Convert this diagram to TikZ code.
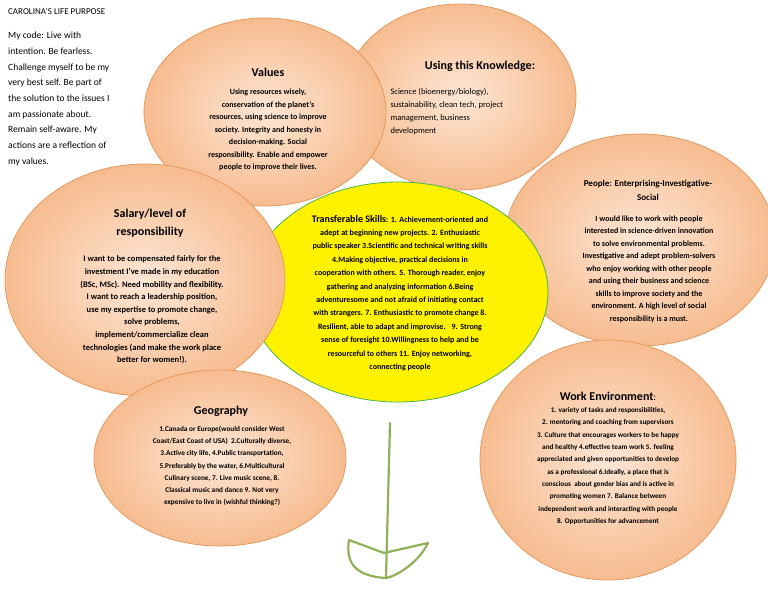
\documentclass[tikz,border=0pt]{standalone}
\usepackage{fontspec}
\setmainfont{Carlito}
\usetikzlibrary{shapes.geometric}
\definecolor{peachin}{HTML}{FDE6D5}
\definecolor{peachout}{HTML}{F7BC90}
\definecolor{peachline}{HTML}{E3995E}
\definecolor{stem}{HTML}{8FB15A}
\tikzset{
  petal/.style={draw=peachline,line width=0.8pt,inner color=peachin,outer color=peachout},
  txt/.style={align=center,font=\fontsize{8}{12.5}\selectfont\bfseries},
  ttl/.style={font=\fontsize{12}{15}\selectfont\bfseries}
}
\begin{document}
\begin{tikzpicture}[x=1pt,y=-1pt]
\useasboundingbox (0,0) rectangle (768,594);
% petals
\draw[petal] (460,97) ellipse [x radius=116,y radius=93];
\draw[petal] (265,112) ellipse [x radius=121,y radius=94];
\draw[petal] (640,240) ellipse [x radius=135,y radius=106];
\draw[fill=yellow,draw=gray!60!green,line width=0.8pt] (398,292) ellipse [x radius=150,y radius=110];
\draw[petal] (145,280) ellipse [x radius=140,y radius=116];
\draw[petal] (220,458) ellipse [x radius=126,y radius=88];
\draw[petal] (608,460) ellipse [x radius=128,y radius=120];
% stem
\coordinate (st) at (390,423);
\coordinate (sj) at (384,553);
\coordinate (sb) at (386,578);
\draw[stem,line width=2.2pt,line cap=round,line join=round] (st) -- (sb);
\draw[stem,line width=2.2pt,line join=round] (sj) -- (349,540) .. controls (346,560) and (352,576) .. (sb) .. controls (400,575) and (420,560) .. (428,543) -- (sj);
% left text
\node[anchor=north west,inner sep=0,font=\fontsize{9}{10}\selectfont] (t0) at (8,8) {CAROLINA’S LIFE PURPOSE};
\node[anchor=north west,inner sep=0,align=left,font=\fontsize{9.5}{15.7}\selectfont] (t1) at (8,32) {My code: Live with\\intention. Be fearless.\\Challenge myself to be my\\very best self. Be part of\\the solution to the issues I\\am passionate about.\\Remain self-aware. My\\actions are a reflection of\\my values.};
% Values
\node[ttl] (vh) at (268,72) {Values};
\node[txt] (vb) at (268,130) {Using resources wisely,\\conservation of the planet’s\\resources, using science to improve\\society. Integrity and honesty in\\decision-making. Social\\responsibility. Enable and empower\\people to improve their lives.};
% Knowledge
\node[ttl] (kh) at (480,66) {Using this Knowledge:};
\node[txt,align=left,font=\fontsize{8.5}{13}\selectfont,anchor=north west] (kb) at (387,85) {Science (bioenergy/biology),\\sustainability, clean tech, project\\management, business\\development};
% People
\node[txt,font=\fontsize{9}{14}\selectfont\bfseries] (ph) at (648,190) {People: Enterprising-Investigative-\\Social};
\node[txt] (pb) at (649,269) {I would like to work with people\\interested in science-driven innovation\\to solve environmental problems.\\Investigative and adept problem-solvers\\who enjoy working with other people\\and using their business and science\\skills to improve society and the\\environment. A high level of social\\responsibility is a must.};
% Salary
\node[ttl,align=center,font=\fontsize{12}{18}\selectfont\bfseries] (sh) at (150,223) {Salary/level of\\responsibility};
\node[txt,font=\fontsize{8.5}{12.6}\selectfont\bfseries] (sb2) at (152,310) {I want to be compensated fairly for the\\investment I’ve made in my education\\(BSc, MSc). Need mobility and flexibility.\\I want to reach a leadership position,\\use my expertise to promote change,\\solve problems,\\implement/commercialize clean\\technologies (and make the work place\\better for women!).};
% Transferable
\node[txt,font=\fontsize{8}{13.4}\selectfont\bfseries] (yb) at (400,293) {{\fontsize{10}{13}\selectfont Transferable Skills}: 1. Achievement-oriented and\\adept at beginning new projects. 2. Enthusiastic\\public speaker 3.Scientific and technical writing skills\\4.Making objective, practical decisions in\\cooperation with others. 5. Thorough reader, enjoy\\gathering and analyzing information 6.Being\\adventuresome and not afraid of initiating contact\\with strangers. 7. Enthusiastic to promote change 8.\\Resilient, able to adapt and improvise. \ \ 9. Strong\\sense of foresight 10.Willingness to help and be\\resourceful to others 11. Enjoy networking,\\connecting people};
% Geography
\node[ttl] (gh) at (221,411) {Geography};
\node[txt,font=\fontsize{7.3}{12.3}\selectfont\bfseries] (gb) at (222,466) {1.Canada or Europe(would consider West\\Coast/East Coast of USA) \ 2.Culturally diverse,\\3.Active city life, 4.Public transportation,\\5.Preferably by the water, 6.Multicultural\\Culinary scene, 7. Live music scene, 8.\\Classical music and dance 9. Not very\\expensive to live in (wishful thinking?)};
% Work env
\node[ttl] (wh) at (608,396) {Work Environment{\normalfont\fontsize{10}{12}\selectfont:}};
\node[txt,font=\fontsize{7.2}{12.3}\selectfont\bfseries] (wb) at (608,466) {1. variety of tasks and responsibilities,\\2. mentoring and coaching from supervisors\\3. Culture that encourages workers to be happy\\and healthy 4.effective team work 5. feeling\\appreciated and given opportunities to develop\\as a professional 6.Ideally, a place that is\\conscious \ about gender bias and is active in\\promoting women 7. Balance between\\independent work and interacting with people\\8. Opportunities for advancement};
\end{tikzpicture}
\end{document}
